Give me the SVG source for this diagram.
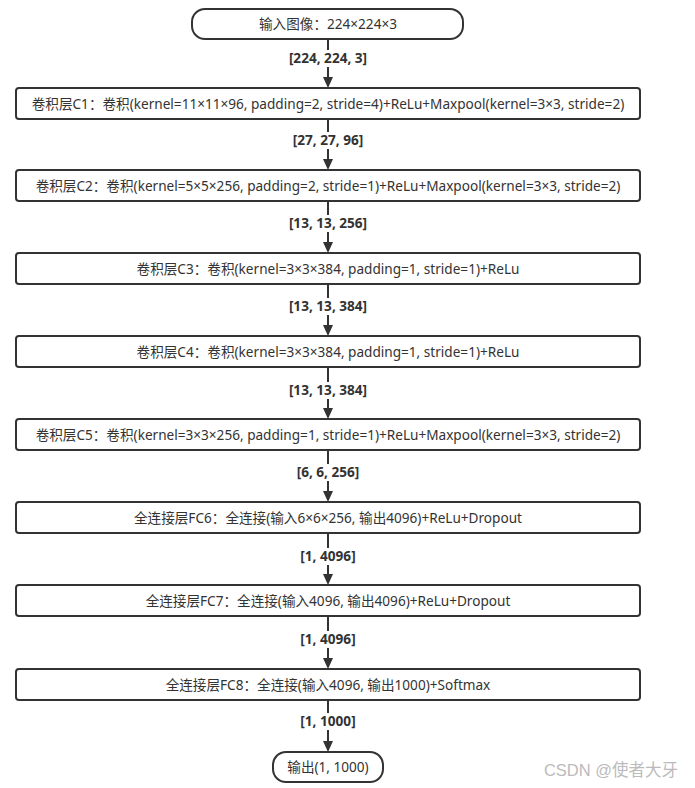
<svg xmlns="http://www.w3.org/2000/svg" width="695" height="788" viewBox="0 0 695 788">
<defs>
<style>
.box{fill:#fff;stroke:#333;stroke-width:2}
.t{font-family:"Noto Sans","Noto Sans CJK SC",sans-serif;font-size:13.6px;fill:#333;text-anchor:middle}
.lbl{font-family:"Noto Sans","Noto Sans CJK SC",sans-serif;font-size:13.6px;font-weight:bold;fill:#333;text-anchor:middle}
.ln{stroke:#333;stroke-width:2;fill:none}
.ah{fill:#333}
.bg{fill:#fff}
</style>
</defs>
<rect width="695" height="788" fill="#fff"/>
<g id="connectors">
<path class="ln" d="M328 39V78M328 119V160M328 201V243M328 284V326M328 367V409M328 450V492M328 533V575M328 616V659M328 700V742"/>
<path class="ah" d="M323 77L333 77L328 88Z M323 159L333 159L328 170Z M323 242L333 242L328 253Z M323 325L333 325L328 336Z M323 408L333 408L328 419Z M323 491L333 491L328 502Z M323 574L333 574L328 585Z M323 658L333 658L328 669Z M323 741L333 741L328 752Z"/>
<rect class="bg" x="284" y="50" width="88" height="17"/>
<text class="lbl" x="328" y="63">[224, 224, 3]</text>
<rect class="bg" x="288" y="132" width="80" height="17"/>
<text class="lbl" x="328" y="145">[27, 27, 96]</text>
<rect class="bg" x="284" y="215" width="88" height="17"/>
<text class="lbl" x="328" y="228">[13, 13, 256]</text>
<rect class="bg" x="284" y="298" width="88" height="17"/>
<text class="lbl" x="328" y="311">[13, 13, 384]</text>
<rect class="bg" x="284" y="382" width="88" height="17"/>
<text class="lbl" x="328" y="395">[13, 13, 384]</text>
<rect class="bg" x="292" y="464" width="72" height="17"/>
<text class="lbl" x="328" y="477">[6, 6, 256]</text>
<rect class="bg" x="294" y="548" width="68" height="17"/>
<text class="lbl" x="328" y="561">[1, 4096]</text>
<rect class="bg" x="294" y="631" width="68" height="17"/>
<text class="lbl" x="328" y="644">[1, 4096]</text>
<rect class="bg" x="294" y="713" width="68" height="17"/>
<text class="lbl" x="328" y="726">[1, 1000]</text>
</g>
<g id="input">
<rect class="box" x="192" y="9" width="271" height="30" rx="13"/>
<text class="t" x="328" y="29">输入图像：224×224×3</text>
</g>
<g id="c1">
<rect class="box" x="16" y="88" width="624" height="31" rx="3"/>
<text class="t" x="328" y="108.5">卷积层C1：卷积(kernel=11×11×96, padding=2, stride=4)+ReLu+Maxpool(kernel=3×3, stride=2)</text>
</g>
<g id="c2">
<rect class="box" x="16" y="170" width="624" height="31" rx="3"/>
<text class="t" x="328" y="190.5">卷积层C2：卷积(kernel=5×5×256, padding=2, stride=1)+ReLu+Maxpool(kernel=3×3, stride=2)</text>
</g>
<g id="c3">
<rect class="box" x="16" y="253" width="624" height="31" rx="3"/>
<text class="t" x="328" y="273.5">卷积层C3：卷积(kernel=3×3×384, padding=1, stride=1)+ReLu</text>
</g>
<g id="c4">
<rect class="box" x="16" y="336" width="624" height="31" rx="3"/>
<text class="t" x="328" y="356.5">卷积层C4：卷积(kernel=3×3×384, padding=1, stride=1)+ReLu</text>
</g>
<g id="c5">
<rect class="box" x="16" y="419" width="624" height="31" rx="3"/>
<text class="t" x="328" y="439.5">卷积层C5：卷积(kernel=3×3×256, padding=1, stride=1)+ReLu+Maxpool(kernel=3×3, stride=2)</text>
</g>
<g id="fc6">
<rect class="box" x="16" y="502" width="624" height="31" rx="3"/>
<text class="t" x="328" y="522.5">全连接层FC6：全连接(输入6×6×256, 输出4096)+ReLu+Dropout</text>
</g>
<g id="fc7">
<rect class="box" x="16" y="585" width="624" height="31" rx="3"/>
<text class="t" x="328" y="605.5">全连接层FC7：全连接(输入4096, 输出4096)+ReLu+Dropout</text>
</g>
<g id="fc8">
<rect class="box" x="16" y="669" width="624" height="31" rx="3"/>
<text class="t" x="328" y="689.5">全连接层FC8：全连接(输入4096, 输出1000)+Softmax</text>
</g>
<g id="output">
<rect class="box" x="273" y="752" width="110" height="30" rx="13"/>
<text class="t" x="328" y="772">输出(1, 1000)</text>
</g>
<text x="611" y="776" font-family="Liberation Sans,Noto Sans CJK SC,sans-serif" font-size="16.5" fill="#bbb" text-anchor="middle">CSDN @使者大牙</text>
</svg>
